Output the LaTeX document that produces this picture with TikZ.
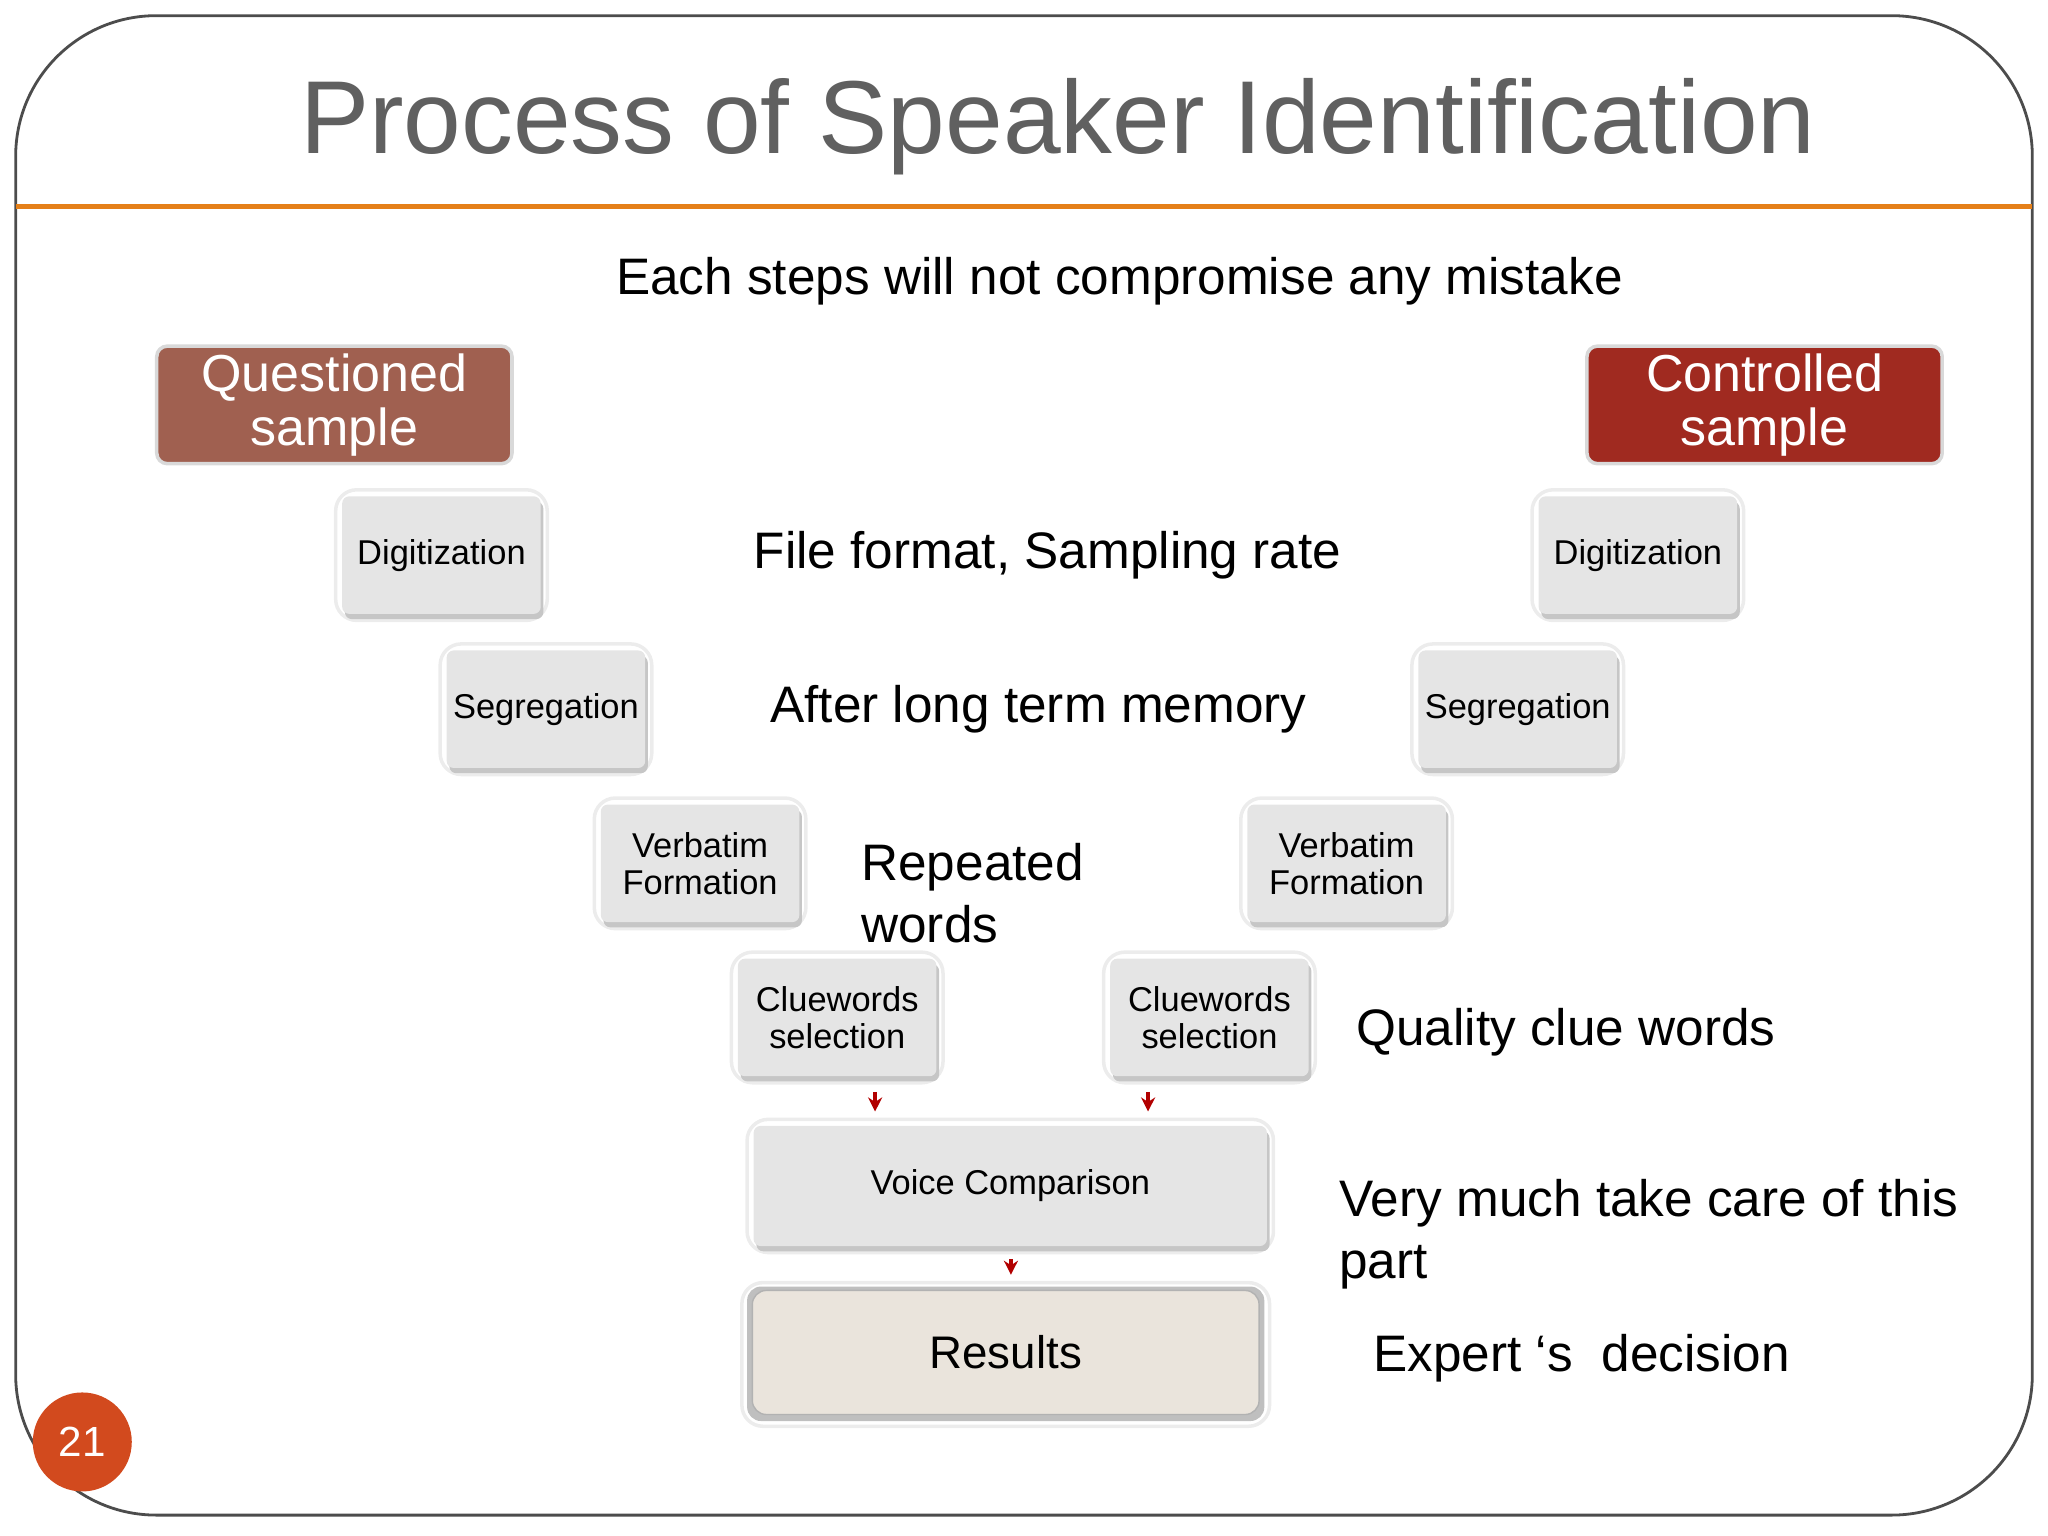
\documentclass[tikz,border=0pt]{standalone}
\usepackage{fontspec}
\setmainfont{Liberation Sans}
\usetikzlibrary{arrows.meta}
\begin{document}
\begin{tikzpicture}[x=0.01306cm,y=-0.01306cm,
 hbox/.style={draw=gray!30,line width=1pt,rounded corners=3pt},
 lab/.style={font=\fontsize{14.6}{17.5}\selectfont,align=left,anchor=west},
 sarr/.style={-{Stealth[length=4pt,width=4pt]},line width=1.2pt,draw=red!70!black}]
\useasboundingbox (0,0) rectangle (1568,1176);
\draw[gray!60!black,line width=0.8pt,rounded corners=40] (12,12) rectangle (1556,1160);
\node[text=gray!75!black,font=\fontsize{29.5}{30}\selectfont] (title) at (810,97) {Process of Speaker Identification};
\draw[orange!60!brown,line width=1.5pt] (12,158) -- (1556,158);
\node[font=\fontsize{14.6}{15}\selectfont] (sub) at (857,215) {Each steps will not compromise any mistake};
\path[hbox,fill={rgb,255:red,160;green,96;blue,80}] (120,265) rectangle (392,355);
\node[text=white,font=\fontsize{14.8}{15.5}\selectfont,align=center] (q) at (256,310) {Questioned\\sample};
\path[hbox,fill={rgb,255:red,160;green,42;blue,32}] (1215,265) rectangle (1487,355);
\node[text=white,font=\fontsize{14.8}{15.5}\selectfont,align=center] (c) at (1351,310) {Controlled\\sample};
\newcommand{\gb}[6]{\draw[gray!15,line width=1pt,rounded corners=6pt] (#2-5,#3-5) rectangle (#4+5,#5+5);
 \path[fill=gray!45,rounded corners=2pt] (#2+2,#3+4) rectangle (#4+2,#5+4);
 \path[fill=gray!20,rounded corners=2pt] (#2,#3) rectangle (#4,#5);
 \node[align=center,font=\fontsize{9.8}{10.6}\selectfont] (#1) at ({(#2+#4)/2},{(#3+#5)/2}) {#6};}
\gb{d1}{262}{380}{414}{470}{Digitization}
\gb{s1}{342}{498}{494}{588}{Segregation}
\gb{v1}{460}{616}{612}{706}{Verbatim\\Formation}
\gb{c1}{565}{734}{717}{824}{Cluewords\\selection}
\gb{d2}{1178}{380}{1330}{470}{Digitization}
\gb{s2}{1086}{498}{1238}{588}{Segregation}
\gb{v2}{955}{616}{1107}{706}{Verbatim\\Formation}
\gb{c2}{850}{734}{1002}{824}{Cluewords\\selection}
\gb{vc}{577}{862}{970}{954}{Voice Comparison}
\draw[gray!15,line width=1pt,rounded corners=6pt] (568,982) rectangle (972,1092);
\path[fill=gray!50,rounded corners=4pt] (572,985) rectangle (968,1088);
\path[fill={rgb,255:red,234;green,228;blue,220},draw=gray!60,rounded corners=4pt] (576,988) rectangle (964,1083);
\node[font=\fontsize{13}{13}\selectfont] (res) at (770,1035) {Results};
\coordinate (a1) at (670,836); \coordinate (b1) at (670,851);
\coordinate (a2) at (879,836); \coordinate (b2) at (879,851);
\coordinate (a3) at (774,964); \coordinate (b3) at (774,976);
\draw[sarr] (a1) -- (b1); \draw[sarr] (a2) -- (b2); \draw[sarr] (a3) -- (b3);
\node[font=\fontsize{14.6}{15}\selectfont] (l1) at (802,425) {File format, Sampling rate};
\node[font=\fontsize{14.6}{15}\selectfont] (l2) at (795,543) {After long term memory};
\node[lab] (l3) at (650,684) {Repeated\\words};
\node[lab] (l4) at (1029,790) {Quality clue words};
\node[lab] (l5) at (1016,945) {Very much take care of this\\part};
\node[lab] (l6) at (1042,1040) {Expert ‘s\ \ decision};
\node[circle,fill={rgb,255:red,210;green,74;blue,30},minimum size=0.99cm,text=white,font=\fontsize{12}{12}\selectfont,inner sep=0pt] (pg) at (63,1104) {21};
\end{tikzpicture}
\end{document}
